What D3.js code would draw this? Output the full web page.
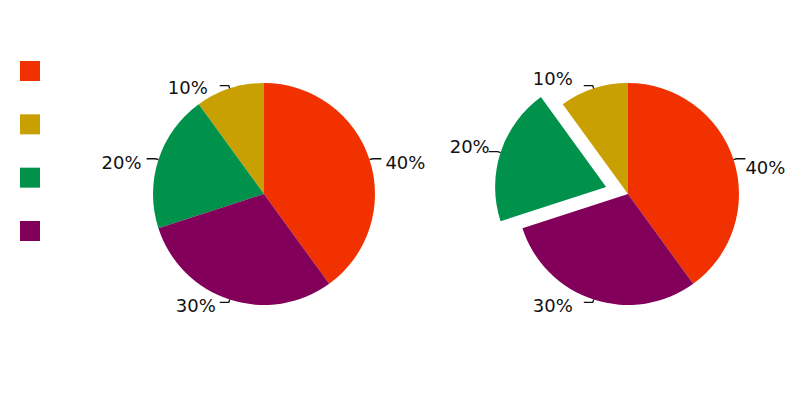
<!DOCTYPE html>
<html>
<head>
<meta charset="utf-8">
<script src="https://cdn.jsdelivr.net/npm/d3@7"></script>
<style>
  html, body { margin: 0; padding: 0; background: #fff; }
  text { font-family: "DejaVu Sans", Verdana, sans-serif; font-size: 18px; fill: #111; }
</style>
</head>
<body>
<svg id="chart" width="800" height="400"></svg>
<script>
// slice values (percent) and their colours, legend order
const values = [40, 10, 20, 30];
const colors = ["#f13200", "#c9a001", "#00914a", "#82005a"];
const explodedIndex = 2; // the green slice is pulled out on the right pie

const svg = d3.select("#chart");

const radius = 111;
const explodeBy = 23;

// pie sorted largest first, clockwise from 12 o'clock (d3 default sort)
const pie = d3.pie().value(d => d.v);
const arc = d3.arc().innerRadius(0).outerRadius(radius);

// small hand tweaks so labels sit like in the original (by data index)
const nudges = [
  [[0, 0], [-8, -2], [-1, 0], [0, 0]],
  [[-4, 5], [-7, -11], [5, -9], [-7, 0]]
];

// legend: plain colour swatches, no text
const legendY = d3.scalePoint().domain(d3.range(values.length)).range([61, 221]);
svg.append("g").selectAll("rect")
  .data(colors)
  .enter()
  .append("rect")
  .attr("x", 20)
  .attr("y", (d, i) => legendY(i))
  .attr("width", 20)
  .attr("height", 20)
  .attr("fill", d => d);

function drawPie(cx, cy, explode, nudge) {
  const g = svg.append("g").attr("transform", `translate(${cx},${cy})`);
  const arcs = pie(values.map((v, i) => ({ v, i })));

  arcs.forEach(a => {
    const k = a.data.i;
    const mid = (a.startAngle + a.endAngle) / 2;
    const off = (explode && k === explodedIndex) ? explodeBy : 0;
    const ox = Math.sin(mid) * off, oy = -Math.cos(mid) * off;
    const sg = g.append("g").attr("transform", `translate(${ox},${oy})`);

    sg.append("path")
      .attr("d", arc(a))
      .attr("fill", colors[k]);

    // leader: from the rim a few px outward, then a short horizontal tick
    const right = Math.sin(mid) > 0;
    const p0 = [Math.sin(mid) * radius, -Math.cos(mid) * radius];
    const p1 = [Math.sin(mid) * (radius + 3), -Math.cos(mid) * (radius + 3)];
    const p2 = [p1[0] + (right ? 9 : -9), p1[1]];
    sg.append("polyline")
      .attr("points", [p0, p1, p2].map(p => p.join(",")).join(" "))
      .attr("fill", "none")
      .attr("stroke", "#111")
      .attr("stroke-width", 1.3);

    const [nx, ny] = nudge[k];
    sg.append("text")
      .attr("x", p2[0] + (right ? 4 : -4) + nx)
      .attr("y", p2[1] + 10 + ny)
      .attr("text-anchor", right ? "start" : "end")
      .text(a.data.v + "%");
  });
}

drawPie(264, 194, false, nudges[0]);
drawPie(628, 194, true, nudges[1]);
</script>
</body>
</html>
